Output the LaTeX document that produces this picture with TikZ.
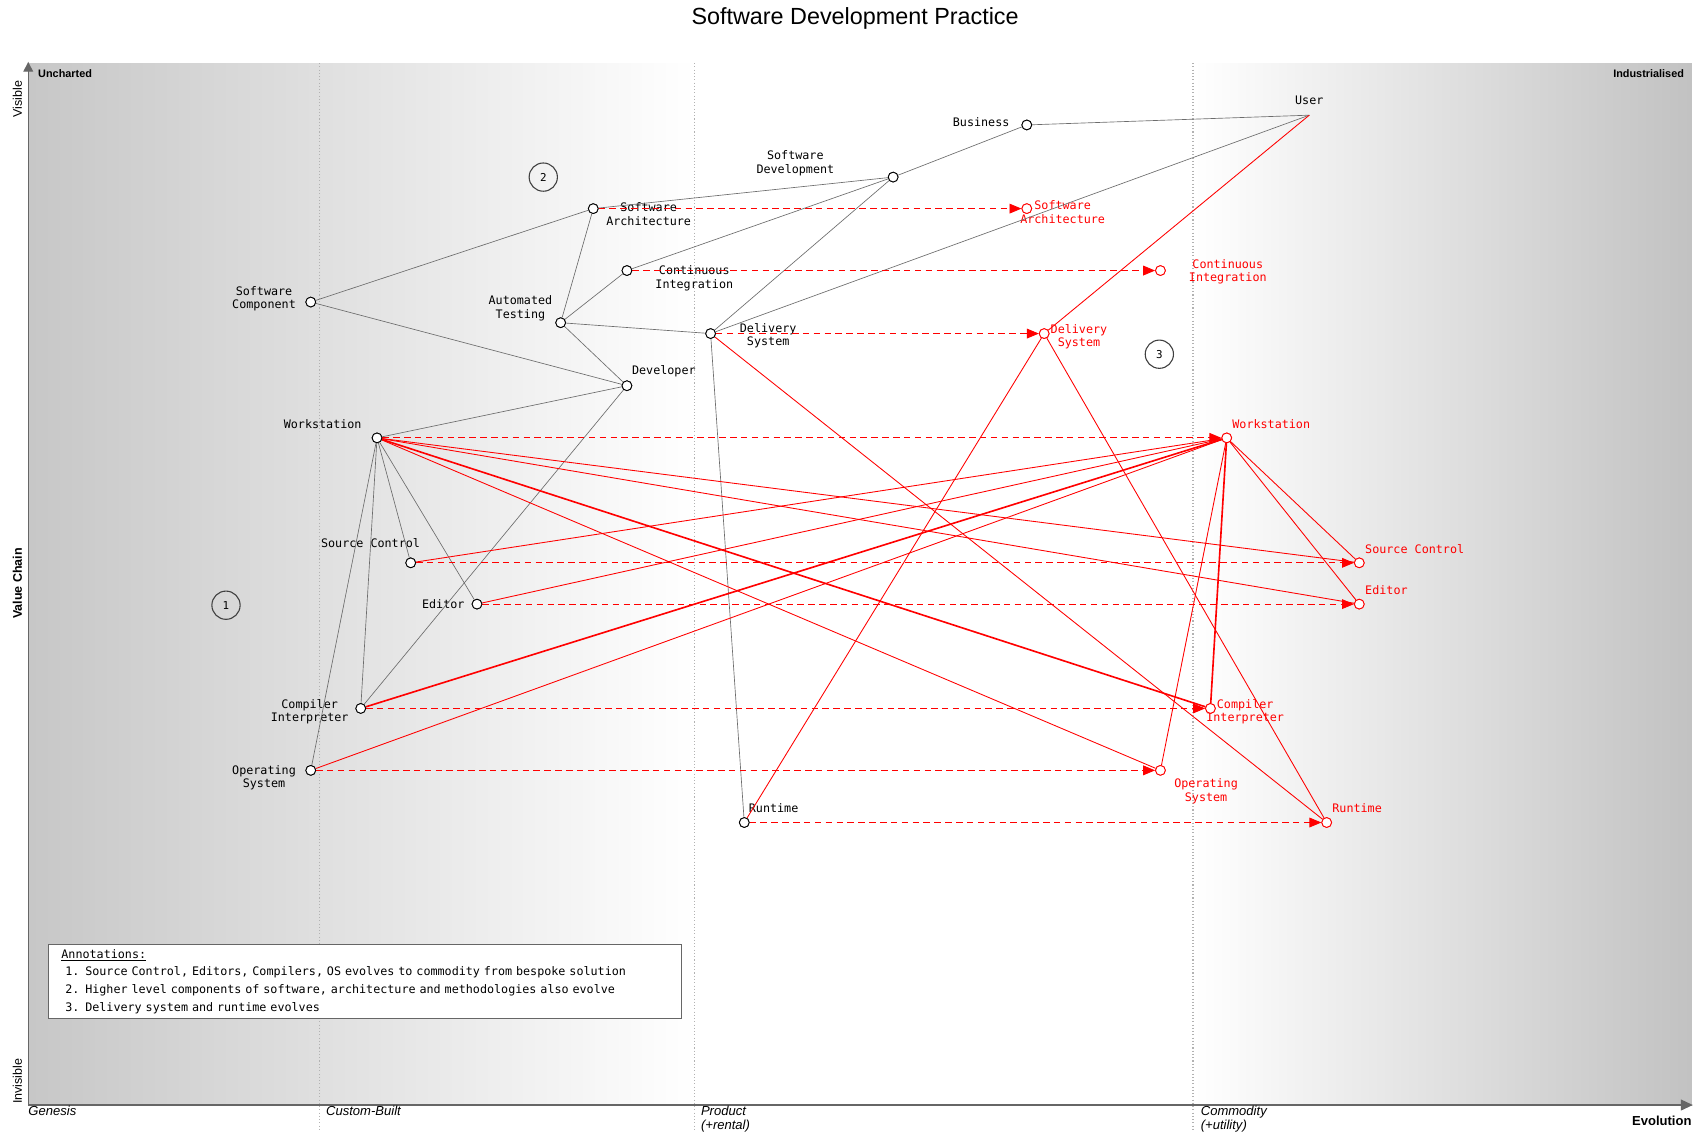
\documentclass[tikz,border=0pt]{standalone}
\usepackage{fontspec}
\setmainfont{Liberation Sans}
\newfontfamily\monof{DejaVu Sans Mono}
\usetikzlibrary{arrows.meta}
\begin{document}
\begin{tikzpicture}[x=1pt,y=-1pt,
  comp/.style={circle,draw=black,fill=white,inner sep=0pt,minimum size=9pt,line width=0.8pt},
  rcomp/.style={circle,draw=red,fill=white,inner sep=0pt,minimum size=9pt,line width=0.8pt},
  lbl/.style={font=\monof\fontsize{10.8}{12.5}\selectfont,align=center,inner sep=1pt},
  rlbl/.style={lbl,text=red},
  link/.style={draw=gray!85!black,line width=0.6pt},
  rlink/.style={draw=red,line width=0.8pt},
  evo/.style={draw=red,dash pattern=on 6pt off 4pt,line width=0.8pt,-{Triangle[length=11pt,width=9pt]}},
  ann/.style={circle,draw=black!75,line width=1pt,minimum size=26pt,inner sep=0pt,font=\monof\fontsize{10}{11}\selectfont},
  axl/.style={font=\fontsize{12}{13}\selectfont\itshape,anchor=north west,align=left,inner sep=0pt}]
\useasboundingbox (0,0) rectangle (1560,1043);
\fill[white] (0,0) rectangle (1560,1043);
% background
\shade[left color=black!22,right color=white] (26,58) rectangle (640,1017);
\fill[white] (639,58) rectangle (1098,1017);
\shade[left color=white,right color=black!24] (1098,58) rectangle (1557,1017);
\foreach \xx in {294,639,1098} \draw[black!30,dotted,line width=1pt] (\xx,58) -- (\xx,1040);
\draw[black!60,line width=1.2pt,-{Triangle[length=9pt,width=9pt]}] (26,1017) -- (26,57);
\draw[black!60,line width=1.2pt,-{Triangle[length=11pt,width=10pt]}] (26,1017) -- (1558,1017);
\node[font=\fontsize{21.5}{24}\selectfont] (title) at (787,17) {Software Development Practice};
\node[font=\bfseries\fontsize{10}{11}\selectfont,anchor=west,inner sep=0pt] (unch) at (35,68) {Uncharted};
\node[font=\bfseries\fontsize{10}{11}\selectfont,anchor=east,inner sep=0pt] (ind) at (1550,68) {Industrialised};
\node[font=\fontsize{11.5}{12}\selectfont,rotate=90,anchor=east,inner sep=0pt] (vis) at (16,74) {Visible};
\node[font=\fontsize{11.5}{12}\selectfont,rotate=90,anchor=west,inner sep=0pt] (invis) at (16,1016) {Invisible};
\node[font=\bfseries\fontsize{11.5}{12}\selectfont,rotate=90] (vc) at (16,537) {Value Chain};
\node[axl] (g1) at (26,1018) {Genesis};
\node[axl] (g2) at (300,1018) {Custom-Built};
\node[axl] (g3) at (645,1018) {Product\\(+rental)};
\node[axl] (g4) at (1105,1018) {Commodity\\(+utility)};
\node[font=\bfseries\fontsize{12}{13}\selectfont,anchor=north east,inner sep=0pt] (evol) at (1557,1027) {Evolution};
% components
\coordinate (user) at (1205,106);
\node[comp] (bus) at (945,115) {};
\node[comp] (sd) at (822,163) {};
\node[comp] (sa) at (546,192) {};
\node[comp] (ci) at (577,249) {};
\node[comp] (at) at (516,297) {};
\node[comp] (ds) at (654,307) {};
\node[comp] (sc) at (286,278) {};
\node[comp] (dev) at (577,355) {};
\node[comp] (ws) at (347,403) {};
\node[comp] (src) at (378,518) {};
\node[comp] (ed) at (439,556) {};
\node[comp] (cmp) at (332,652) {};
\node[comp] (os) at (286,709) {};
\node[comp] (rt) at (685,757) {};
\node[rcomp] (rsa) at (945,192) {};
\node[rcomp] (rci) at (1068,249) {};
\node[rcomp] (rds) at (961,307) {};
\node[rcomp] (rws) at (1129,403) {};
\node[rcomp] (rsrc) at (1251,518) {};
\node[rcomp] (red) at (1251,556) {};
\node[rcomp] (rcmp) at (1114,652) {};
\node[rcomp] (ros) at (1068,709) {};
\node[rcomp] (rrt) at (1221,757) {};
% labels
\node[lbl] (luser) at (1205,92) {User};
\node[lbl] (lbus) at (903,112) {Business};
\node[lbl] (lsd) at (732,150) {Software\\Development};
\node[lbl] (lsa) at (597,197) {Software\\Architecture};
\node[lbl] (lci) at (639,256) {Continuous\\Integration};
\node[lbl] (lat) at (479,284) {Automated\\Testing};
\node[lbl] (lds) at (707,309) {Delivery\\System};
\node[lbl] (lsc) at (243,275) {Software\\Component};
\node[lbl] (ldev) at (611,342) {Developer};
\node[lbl] (lws) at (297,390) {Workstation};
\node[lbl] (lsrc) at (341,500) {Source Control};
\node[lbl] (led) at (408,556) {Editor};
\node[lbl] (lcmp) at (285,655) {Compiler\\Interpreter};
\node[lbl] (los) at (243,716) {Operating\\System};
\node[lbl] (lrt) at (712,744) {Runtime};
\node[rlbl] (lrsa) at (978,195) {Software\\Architecture};
\node[rlbl] (lrci) at (1130,250) {Continuous\\Integration};
\node[rlbl] (lrds) at (993,310) {Delivery\\System};
\node[rlbl] (lrws) at (1170,390) {Workstation};
\node[rlbl] (lrsrc) at (1302,505) {Source Control};
\node[rlbl] (lred) at (1276,543) {Editor};
\node[rlbl] (lrcmp) at (1146,655) {Compiler\\Interpreter};
\node[rlbl] (lros) at (1110,728) {Operating\\System};
\node[rlbl] (lrrt) at (1249,744) {Runtime};
% links
\path[link] (bus) -- (user);
\path[link] (sd) -- (bus);
\path[link] (sa) -- (sd);
\path[link] (sc) -- (sa);
\path[link] (at) -- (sa);
\path[link] (ci) -- (sd);
\path[link] (at) -- (ci);
\path[link] (ds) -- (sd);
\path[link] (ds) -- (user);
\path[link] (at) -- (ds);
\path[link] (at) -- (dev);
\path[link] (sc) -- (dev);
\path[link] (dev) -- (ws);
\path[link] (dev) -- (cmp);
\path[link] (ws) -- (src);
\path[link] (ws) -- (ed);
\path[link] (ws) -- (cmp);
\path[link] (ws) -- (os);
\path[link] (ds) -- (rt);
\path[rlink] (user) -- (rds);
\path[rlink] (rds) -- (rt);
\path[rlink] (rds) -- (rrt);
\path[rlink] (ds) -- (rrt);
\path[rlink] (ws) -- (rsrc);
\path[rlink] (ws) -- (red);
\path[rlink,line width=1.5pt] (ws) -- (rcmp);
\path[rlink] (ws) -- (ros);
\path[rlink] (rws) -- (src);
\path[rlink] (rws) -- (ed);
\path[rlink,line width=1.5pt] (rws) -- (cmp);
\path[rlink] (rws) -- (os);
\path[rlink] (rws) -- (rsrc);
\path[rlink] (rws) -- (red);
\path[rlink,line width=1.5pt] (rws) -- (rcmp);
\path[rlink] (rws) -- (ros);
% evolve
\path[evo] (sa) -- (rsa);
\path[evo] (ci) -- (rci);
\path[evo] (ds) -- (rds);
\path[evo] (ws) -- (rws);
\path[evo] (src) -- (rsrc);
\path[evo] (ed) -- (red);
\path[evo] (cmp) -- (rcmp);
\path[evo] (os) -- (ros);
\path[evo] (rt) -- (rrt);
% redraw circles on top
\foreach \n in {bus,sd,sa,ci,at,ds,sc,dev,ws,src,ed,cmp,os,rt} \node[comp] at (\n) {};
\foreach \n in {rsa,rci,rds,rws,rsrc,red,rcmp,ros,rrt} \node[rcomp] at (\n) {};
% annotations
\node[ann] (a1) at (208,557) {1};
\node[ann] (a2) at (500,163) {2};
\node[ann] (a3) at (1067,326) {3};
\node[draw=black!60,fill=white,line width=1pt,anchor=north west,align=left,minimum height=68pt,inner xsep=12pt,inner ysep=2pt,text width=559pt,font=\monof\fontsize{10.8}{16.5}\selectfont] (annbox) at (44,869)
 {\underline{Annotations:}\\
 \ 1. Source Control, Editors, Compilers, OS evolves to commodity from bespoke solution\\
 \ 2. Higher level components of software, architecture and methodologies also evolve\\
 \ 3. Delivery system and runtime evolves};
\end{tikzpicture}
\end{document}
